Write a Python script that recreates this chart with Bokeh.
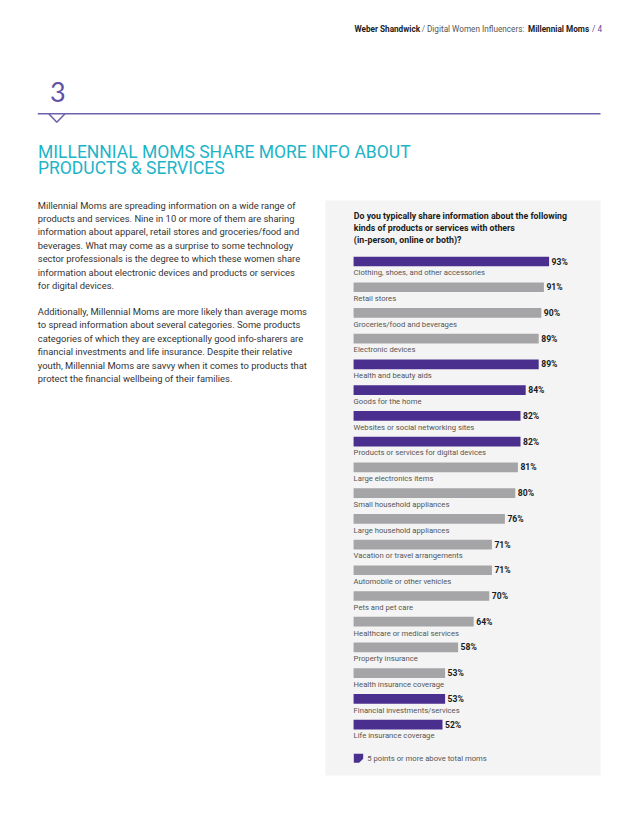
from bokeh.plotting import figure
from bokeh.models import Range1d
from bokeh.core.properties import value
from bokeh.embed import file_html
from bokeh.resources import INLINE

# ---------------- data ----------------
categories = [
    "Clothing, shoes, and other accessories",
    "Retail stores",
    "Groceries/food and beverages",
    "Electronic devices",
    "Health and beauty aids",
    "Goods for the home",
    "Websites or social networking sites",
    "Products or services for digital devices",
    "Large electronics items",
    "Small household appliances",
    "Large household appliances",
    "Vacation or travel arrangements",
    "Automobile or other vehicles",
    "Pets and pet care",
    "Healthcare or medical services",
    "Property insurance",
    "Health insurance coverage",
    "Financial investments/services",
    "Life insurance coverage",
]
share_pct = [93, 91, 90, 89, 89, 84, 82, 82, 81, 80, 76, 71, 71, 70, 64, 58, 53, 53, 52]
above_total_moms = [True, False, False, False, True, True, True, True, False, False,
                    False, False, False, False, False, False, False, True, True]

question_lines = [
    "Do you typically share information about the following",
    "kinds of products or services with others",
    "(in-person, online or both)?",
]
legend_text = "5 points or more above total moms"

header_parts = ["Weber Shandwick", "/", "Digital Women Influencers:", "Millennial Moms", "/ 4"]
section_number = "3"
title_lines = ["MILLENNIAL MOMS SHARE MORE INFO ABOUT", "PRODUCTS & SERVICES"]
para1 = [
    "Millennial Moms are spreading information on a wide range of",
    "products and services. Nine in 10 or more of them are sharing",
    "information about apparel, retail stores and groceries/food and",
    "beverages. What may come as a surprise to some technology",
    "sector professionals is the degree to which these women share",
    "information about electronic devices and products or services",
    "for digital devices.",
]
para2 = [
    "Additionally, Millennial Moms are more likely than average moms",
    "to spread information about several categories. Some products",
    "categories of which they are exceptionally good info-sharers are",
    "financial investments and life insurance. Despite their relative",
    "youth, Millennial Moms are savvy when it comes to products that",
    "protect the financial wellbeing of their families.",
]

# ---------------- styles ----------------
PURPLE = "#4b2f8e"
GRAY_BAR = "#a5a5a7"
TEAL = "#1db4c8"
LINE_PURPLE = "#6e62ab"
PANEL = "#f4f4f4"
FONT = value("Roboto")
BASE = 17.8  # value where the bars start on the chart's scale

W, H = 630, 818
p = figure(width=W, height=H, output_backend="svg", toolbar_location=None,
           x_range=Range1d(0, W), y_range=Range1d(H, 0),
           x_axis_location=None, y_axis_location=None, min_border=0,
           outline_line_color=None, background_fill_color="white", border_fill_color="white")
p.grid.visible = False
p.extra_x_ranges = {"pct": Range1d(-118.0, 124.31)}
p.extra_y_ranges = {"row": Range1d(21.648, -10.144)}


def txt(x, y, s, size, color, style="normal", font=FONT, align="left"):
    p.text(x=[x], y=[y], text=[s], text_font=font, text_font_size=size,
           text_color=color, text_font_style=style, text_baseline="middle", text_align=align)


# ---------------- page header ----------------
hdr_x = [354, 421.3, 426.5, 527.5, 591.5]
hdr_col = ["#222222", "#777777", "#555555", "#222222", "#5b4a9e"]
hdr_st = ["bold", "normal", "normal", "bold", "normal"]
for s, x, c, st in zip(header_parts, hdr_x, hdr_col, hdr_st):
    txt(x, 28.4, s, "8.2px", c, st)

# section number and divider
txt(49.5, 91.7, section_number, "27px", "#6252a6", font=value("Lato"))
p.line(x=[37.3, 600], y=[113.3, 113.3], line_color=LINE_PURPLE, line_width=1.6)
p.line(x=[48.3, 56.3, 64.5], y=[113.3, 121.7, 113.3], line_color=LINE_PURPLE, line_width=1.6)

# title
for i, t in enumerate(title_lines):
    txt(37.5, 151 + i * 16, t, "17.5px", TEAL)

# paragraphs
LS = 13.4
for i, t in enumerate(para1):
    txt(37.3, 204.5 + i * LS, t, "9.4px", "#333333")
for i, t in enumerate(para2):
    txt(37.3, 311 + i * LS, t, "9.4px", "#333333")

# ---------------- chart panel ----------------
p.quad(left=[325], right=[600], top=[200], bottom=[775], fill_color=PANEL, line_color=None)
for i, t in enumerate(question_lines):
    txt(353.3, 215 + i * 12.4, t, "8.8px", "#1a1a1a", "bold")

rows = list(range(len(categories)))
colors = [PURPLE if a else GRAY_BAR for a in above_total_moms]
p.hbar(y=rows, left=BASE, right=share_pct, height=0.377, fill_color=colors, line_color=None,
       x_range_name="pct", y_range_name="row")
p.text(x=[BASE] * len(rows), y=rows, text=categories, y_offset=11.3,
       text_font=FONT, text_font_size="7.7px", text_color="#555555", text_baseline="middle",
       x_range_name="pct", y_range_name="row")
p.text(x=share_pct, y=rows, text=[f"{v}%" for v in share_pct], x_offset=2.5,
       text_font=FONT, text_font_size="8.6px", text_font_style="bold", text_color="#1a1a1a",
       text_baseline="middle", x_range_name="pct", y_range_name="row")

# legend
p.patch(x=[353.3, 362.7, 362.7, 358.6, 353.3], y=[753.3, 753.3, 758.2, 762.3, 762.3],
        fill_color=PURPLE, line_color=None)
txt(366.7, 757.7, legend_text, "7.7px", "#555555")

open("out.html", "w").write(file_html(p, INLINE))
